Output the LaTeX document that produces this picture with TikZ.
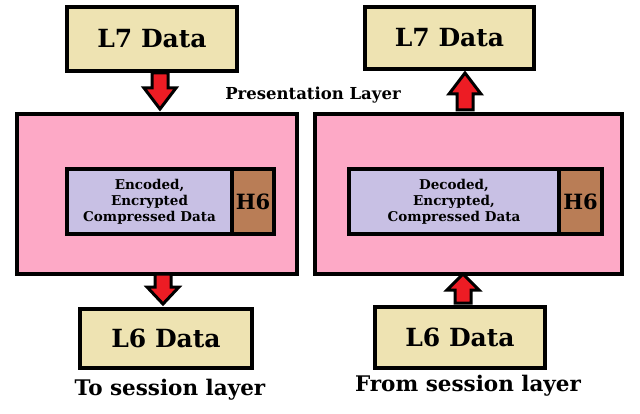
\documentclass[tikz,border=0pt]{standalone}
\usepackage{fontspec}
\setmainfont{DejaVu Serif}
\definecolor{tan}{HTML}{EEE3B2}
\definecolor{pinkb}{HTML}{FDA9C6}
\definecolor{lav}{HTML}{C8C0E4}
\definecolor{brownh}{HTML}{B97D56}
\definecolor{redA}{HTML}{ED1C24}
\begin{document}
\begin{tikzpicture}[x=1pt,y=-1pt,
  box/.style={draw=black,line width=4pt,inner sep=0pt,anchor=north west},
  big/.style={font=\fontsize{25}{27}\selectfont\bfseries},
  small/.style={font=\fontsize{13.5}{16}\selectfont\bfseries,align=center},
  arr/.style={fill=redA,draw=black,line width=3pt,line join=miter}]
\useasboundingbox (0,0) rectangle (640,414);
% top boxes
\node[box,fill=tan,minimum width=170pt,minimum height=64pt] (l7a) at (65,5) {};
\node[big] at (l7a.center) {L7 Data};
\node[box,fill=tan,minimum width=169pt,minimum height=62pt] (l7b) at (363,5) {};
\node[big] at (l7b.center) {L7 Data};
% pink
\node[box,fill=pinkb,minimum width=280pt,minimum height=160pt] (pa) at (15,112) {};
\node[box,fill=pinkb,minimum width=307pt,minimum height=160pt] (pb) at (313,112) {};
% inner
\node[box,fill=lav,minimum width=165pt,minimum height=65pt] (ia) at (65,167) {};
\node[box,fill=brownh,minimum width=42pt,minimum height=65pt] (ha) at (230,167) {};
\node[small] at (ia.center) {Encoded,\\Encrypted\\Compressed Data};
\node[font=\fontsize{21}{23}\selectfont\bfseries] at (ha.center) {H6};
\node[box,fill=lav,minimum width=210pt,minimum height=65pt] (ib) at (347,167) {};
\node[box,fill=brownh,minimum width=43pt,minimum height=65pt] (hb) at (557,167) {};
\node[small] at (ib.center) {Decoded,\\Encrypted,\\Compressed Data};
\node[font=\fontsize{21}{23}\selectfont\bfseries] at (hb.center) {H6};
% bottom boxes
\node[box,fill=tan,minimum width=172pt,minimum height=59pt] (l6a) at (78,307) {};
\node[big] at (l6a.center) {L6 Data};
\node[box,fill=tan,minimum width=170pt,minimum height=61pt] (l6b) at (373,305) {};
\node[big] at (l6b.center) {L6 Data};
% labels
\node[font=\fontsize{16.5}{18}\selectfont\bfseries] (pl) at (313,95) {Presentation Layer};
\node[font=\fontsize{21.5}{23}\selectfont\bfseries] (ta) at (170,390) {To session layer};
\node[font=\fontsize{21.5}{23}\selectfont\bfseries] (tb) at (468,386) {From session layer};
% arrows
\draw[arr] (152,73) -- (168,73) -- (168,88) -- (176,88) -- (160,109) -- (144,88) -- (152,88) -- cycle;
\draw[arr] (155,274) -- (171,274) -- (171,287) -- (179,287) -- (163,304) -- (147,287) -- (155,287) -- cycle;
\draw[arr] (457,110) -- (473,110) -- (473,94) -- (481,94) -- (465,73) -- (449,94) -- (457,94) -- cycle;
\draw[arr] (455,303) -- (471,303) -- (471,290) -- (479,290) -- (463,274) -- (447,290) -- (455,290) -- cycle;
\end{tikzpicture}
\end{document}
